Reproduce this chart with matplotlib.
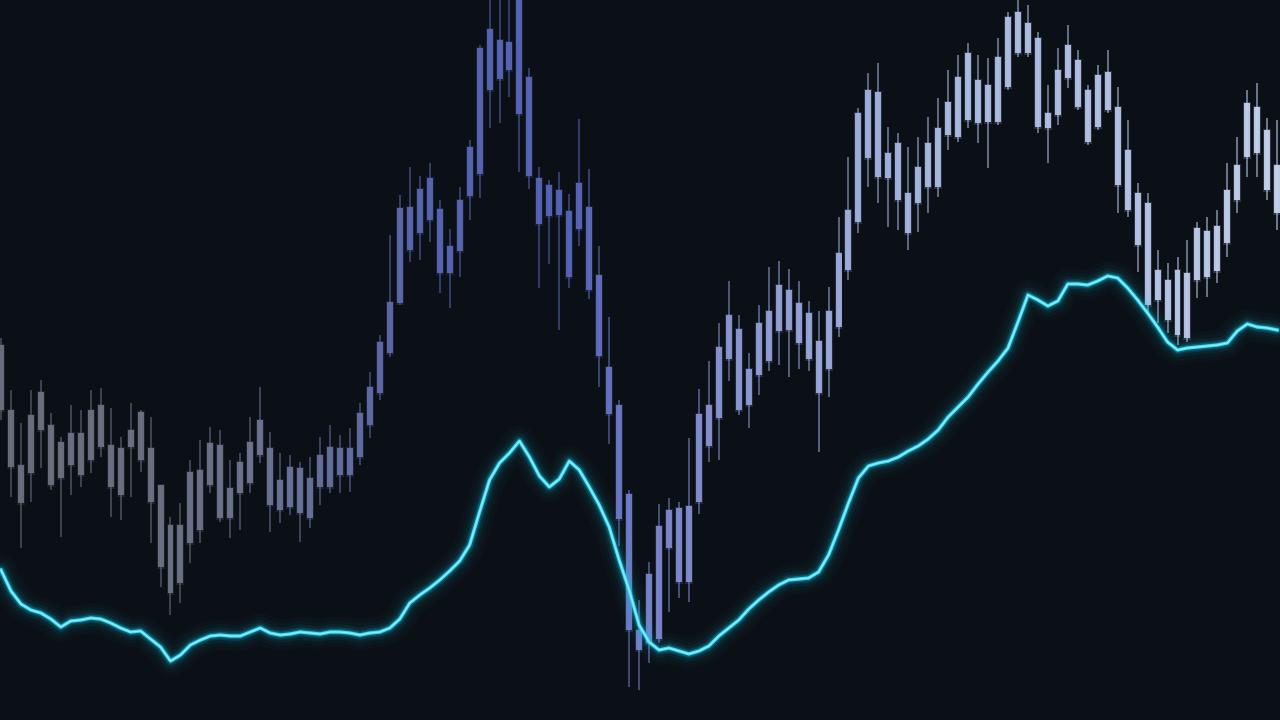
import numpy as np
import matplotlib
matplotlib.use("Agg")
import matplotlib.pyplot as plt

# ---- data (arbitrary price units), one entry per period ----
open_ = [310, 253, 217, 247, 290, 235, 242, 255, 245, 260, 273, 233, 225, 273, 260, 218, 153, 127, 137, 177,
         190, 235, 202, 202, 227, 237, 265, 215, 210, 213, 207, 202, 233, 233, 245, 245, 263, 295, 327, 367,
         417, 470, 487, 500, 447, 447, 469, 524, 546, 630, 641, 650, 606, 544, 496, 504, 505, 443, 491, 430,
         364, 306, 201, 90, 70, 77, 81, 172, 138, 138, 218, 274, 302, 361, 310, 315, 345, 359, 389, 390,
         377, 361, 327, 351, 393, 450, 498, 562, 543, 542, 520, 487, 517, 533, 533, 585, 583, 600, 597, 598,
         598, 633, 667, 667, 593, 592, 605, 642, 613, 578, 593, 610, 535, 510, 475, 415, 420, 400, 385, 382,
         440, 443, 449, 477, 520, 563, 567, 530, 507]
close_ = [375, 310, 255, 305, 328, 295, 278, 287, 287, 310, 315, 275, 272, 290, 308, 272, 235, 195, 195, 248,
          250, 277, 275, 232, 258, 278, 300, 272, 240, 253, 252, 242, 265, 273, 272, 272, 307, 333, 378, 418,
          512, 513, 531, 542, 511, 474, 520, 573, 672, 691, 680, 678, 725, 643, 542, 535, 530, 509, 537, 513,
          445, 353, 315, 226, 90, 146, 194, 210, 212, 214, 306, 315, 373, 405, 391, 351, 397, 409, 435, 430,
          417, 407, 379, 409, 467, 510, 607, 630, 628, 567, 577, 527, 553, 577, 592, 618, 643, 667, 640, 635,
          663, 703, 708, 697, 682, 607, 650, 675, 660, 630, 645, 648, 613, 570, 527, 517, 450, 440, 450, 447,
          492, 489, 494, 530, 555, 617, 613, 590, 555]
high = [382, 330, 297, 330, 340, 307, 283, 315, 310, 330, 332, 312, 283, 317, 310, 303, 235, 203, 217, 260,
        280, 293, 290, 260, 267, 303, 333, 288, 267, 265, 258, 263, 283, 295, 285, 292, 317, 348, 385, 485,
        525, 553, 544, 557, 520, 491, 533, 580, 675, 730, 730, 730, 730, 652, 553, 540, 548, 526, 601, 551,
        474, 403, 320, 230, 120, 158, 216, 222, 218, 282, 331, 359, 397, 439, 405, 367, 415, 453, 459, 451,
        439, 419, 409, 433, 503, 563, 612, 647, 657, 593, 587, 573, 583, 603, 622, 650, 665, 677, 665, 662,
        682, 708, 722, 715, 688, 635, 672, 695, 670, 635, 655, 670, 633, 600, 537, 527, 470, 457, 463, 480,
        498, 503, 510, 557, 583, 630, 637, 602, 600]
low = [300, 223, 172, 218, 252, 230, 183, 225, 233, 247, 263, 203, 200, 223, 248, 177, 133, 105, 117, 157,
       177, 227, 198, 182, 190, 227, 257, 188, 197, 205, 178, 192, 215, 227, 227, 228, 255, 282, 320, 363,
       415, 458, 460, 478, 427, 412, 443, 500, 522, 592, 597, 623, 548, 531, 432, 456, 390, 432, 474, 421,
       333, 276, 174, 33, 30, 57, 77, 108, 122, 118, 206, 258, 260, 339, 305, 292, 325, 349, 355, 343,
       351, 349, 268, 323, 383, 440, 487, 533, 517, 493, 490, 470, 488, 507, 523, 570, 578, 592, 577, 552,
       595, 630, 663, 663, 587, 557, 595, 632, 610, 575, 590, 607, 507, 503, 448, 407, 397, 387, 375, 378,
       422, 423, 437, 463, 507, 543, 543, 520, 490]
avg_line = [150, 129, 116, 110, 107, 101, 93, 99, 100, 102, 101, 97, 92, 88, 89, 81, 73, 59, 65, 75,
            80, 84, 85, 84, 84, 88, 92, 87, 85, 86, 88, 87, 86, 88, 88, 87, 85, 87, 88, 92,
            101, 117, 125, 132, 140, 149, 159, 175, 208, 240, 257, 267, 279, 263, 244, 233, 241, 259, 250, 233,
            215, 193, 160, 130, 95, 78, 70, 72, 69, 66, 69, 74, 84, 92, 100, 111, 120, 128, 135, 140,
            141, 142, 148, 165, 190, 217, 242, 254, 257, 259, 263, 269, 274, 281, 290, 303, 313, 323, 336, 348,
            359, 372, 398, 425, 420, 414, 419, 436, 436, 435, 439, 444, 442, 432, 420, 407, 393, 378, 370, 372,
            373, 374, 375, 377, 389, 396, 393, 392, 390]

# ---- styling ----
BG = "#0b1016"
n = len(open_)
t = np.arange(n)

stops = np.array([0.0, 0.12, 0.2, 0.28, 0.33, 0.45, 0.5, 0.58, 0.66, 0.75, 0.9, 1.0])
rgb = np.array([(108, 114, 128), (110, 116, 132), (112, 120, 150), (100, 112, 168), (90, 104, 182),
                (88, 102, 188), (122, 132, 208), (145, 156, 216), (162, 177, 226), (176, 193, 233),
                (186, 201, 238), (202, 216, 243)]) / 255.0
frac = t / (n - 1)
cols = np.stack([np.interp(frac, stops, rgb[:, k]) for k in range(3)], axis=1)

fig = plt.figure(figsize=(12.8, 7.2), dpi=100, facecolor=BG)
ax = fig.add_axes([0, 0, 1, 1])
ax.set_facecolor(BG)

o = np.array(open_, float)
c = np.array(close_, float)
hi = np.array(high, float)
lo = np.array(low, float)
bot = np.minimum(o, c)
h = np.abs(c - o)

# wicks
wick_cols = np.concatenate([cols * 0.85, np.full((n, 1), 0.8)], axis=1)
ax.vlines(t, lo, hi, colors=wick_cols, linewidth=1.1, zorder=2)
# soft halo around bodies
halo_cols = np.concatenate([cols, np.full((n, 1), 0.18)], axis=1)
ax.bar(t, h + 3, bottom=bot - 1.5, width=0.8, color=halo_cols, edgecolor="none", zorder=2.5)
# bodies
body_cols = np.concatenate([cols, np.full((n, 1), 0.92)], axis=1)
ax.bar(t, h, bottom=bot, width=0.6, color=body_cols, edgecolor="none", zorder=3)

# glowing average line
line = np.array(avg_line, float)
for lw, a in [(22, 0.025), (16, 0.04), (11, 0.07), (7, 0.13), (4.5, 0.28)]:
    ax.plot(t, line, color="#16c2e6", linewidth=lw, alpha=a, solid_capstyle="round",
            solid_joinstyle="round", zorder=4)
ax.plot(t, line, color="#3fdcf4", linewidth=2.4, zorder=5, solid_joinstyle="round")
ax.plot(t, line, color="#b0f6ff", linewidth=0.9, alpha=0.7, zorder=6, solid_joinstyle="round")

ax.set_xlim(-0.1, 128.28)
ax.set_ylim(0, 720)
ax.axis("off")

fig.savefig("out.png", dpi=100, facecolor=BG)
